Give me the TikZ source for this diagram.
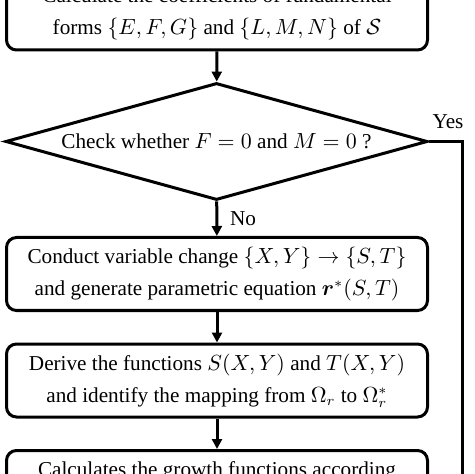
\documentclass[tikz,border=0pt]{standalone}
\usepackage{amsmath}
\usepackage{fontspec}
\setmainfont{Liberation Serif}
\usetikzlibrary{shapes.geometric,arrows.meta}
\begin{document}
\begin{tikzpicture}[x=0.5pt,y=-0.5pt,
  stepbox/.style={draw,line width=1.5pt,rounded corners=5pt,minimum width=210.5pt,minimum height=36.5pt,align=center,inner sep=0pt,font=\fontsize{10.6}{16}\selectfont},
  decision/.style={draw,line width=1.5pt,shape=diamond,aspect=3.6,minimum width=211pt,minimum height=58.5pt,inner sep=0pt,font=\fontsize{10.6}{16}\selectfont},
  flow/.style={line width=1.5pt,-{Triangle[length=5pt,width=5pt]}},
  lbl/.style={font=\fontsize{10.6}{14}\selectfont,inner sep=0pt}]
\useasboundingbox (0,0) rectangle (474,474);
\clip (0,0) rectangle (474,474);
\node[stepbox] (b1) at (217,13.5) {Calculate the coefficients of fundamental\\forms $\{E,F,G\}$ and $\{L,M,N\}$ of $\mathcal{S}$};
\node[decision] (d) at (216.5,141.5) {Check whether $F=0$ and $M=0$ ?};
\node[stepbox] (b2) at (217,274) {Conduct variable change $\{X,Y\}\rightarrow\{S,T\}$\\and generate parametric equation $\boldsymbol{r}^{*}(S,T)$};
\node[stepbox] (b3) at (217,380.5) {Derive the functions $S(X,Y)$ and $T(X,Y)$\\and identify the mapping from $\Omega_r$ to $\Omega_r^{*}$};
\node[stepbox] (b4) at (217,487) {Calculates the growth functions according\\to the mapping};
\coordinate (yc) at (462,141.5);
\coordinate (ye) at (462,480);
\draw[flow] (b1) -- (d);
\draw[flow] (d) -- (b2);
\draw[flow] (b2) -- (b3);
\draw[flow] (b3) -- (b4);
\draw[line width=1.5pt] (d.east) -- (yc) -- (ye);
\node[lbl] (yes) at (448,122) {Yes};
\node[lbl] (no) at (243,219) {No};
\end{tikzpicture}
\end{document}
